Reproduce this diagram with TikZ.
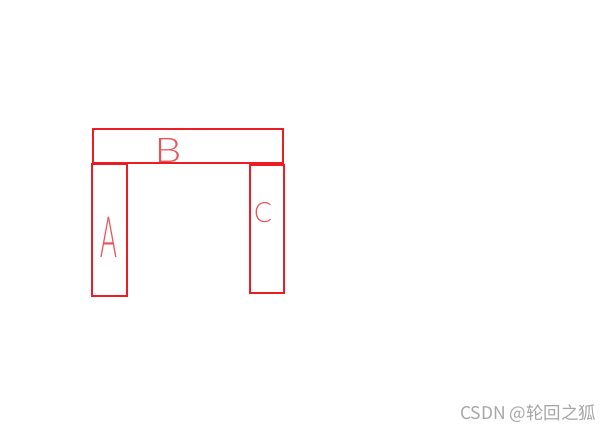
\documentclass[tikz,border=0pt]{standalone}
\usepackage{fontspec}
\setmainfont{Liberation Sans}
\newfontfamily\cjkfont{Noto Sans CJK SC}
\newfontfamily\thinfont{Lato Light}
\definecolor{paintred}{HTML}{ED1C24}
\definecolor{inkred}{HTML}{EE5058}
\definecolor{wmgray}{HTML}{A6A6A6}
\begin{document}
\begin{tikzpicture}[x=1pt,y=-1pt,
  block/.style={draw=paintred,line width=2pt,inner sep=0pt,fill=none},
  hand/.style={text=inkred,inner sep=0pt},
  wmark/.style={text=wmgray,inner sep=0pt,font=\cjkfont\fontsize{17.5}{20}\selectfont}]
\useasboundingbox[fill=white] (0,0) rectangle (611,431);
\node[block,minimum width=189.4pt,minimum height=34.3pt] (B) at (188,146.2) {};
\node[block,minimum width=35pt,minimum height=132pt] (A) at (109.5,229.7) {};
\node[block,minimum width=33.7pt,minimum height=127.7pt] (C) at (267,228.8) {};
\node[hand,font=\thinfont\fontsize{57}{60}\selectfont\addfontfeature{FakeStretch=0.45}] (la) at (109,237) {A};
\node[hand,font=\thinfont\fontsize{34}{36}\selectfont\addfontfeature{FakeStretch=1.25}] (lb) at (168,150) {B};
\node[hand,font=\thinfont\fontsize{28}{30}\selectfont\addfontfeature{FakeStretch=0.95}] (lc) at (263,213) {C};
\node[wmark,anchor=base west] (wm) at (460,419) {CSDN @轮回之狐};
\end{tikzpicture}
\end{document}
